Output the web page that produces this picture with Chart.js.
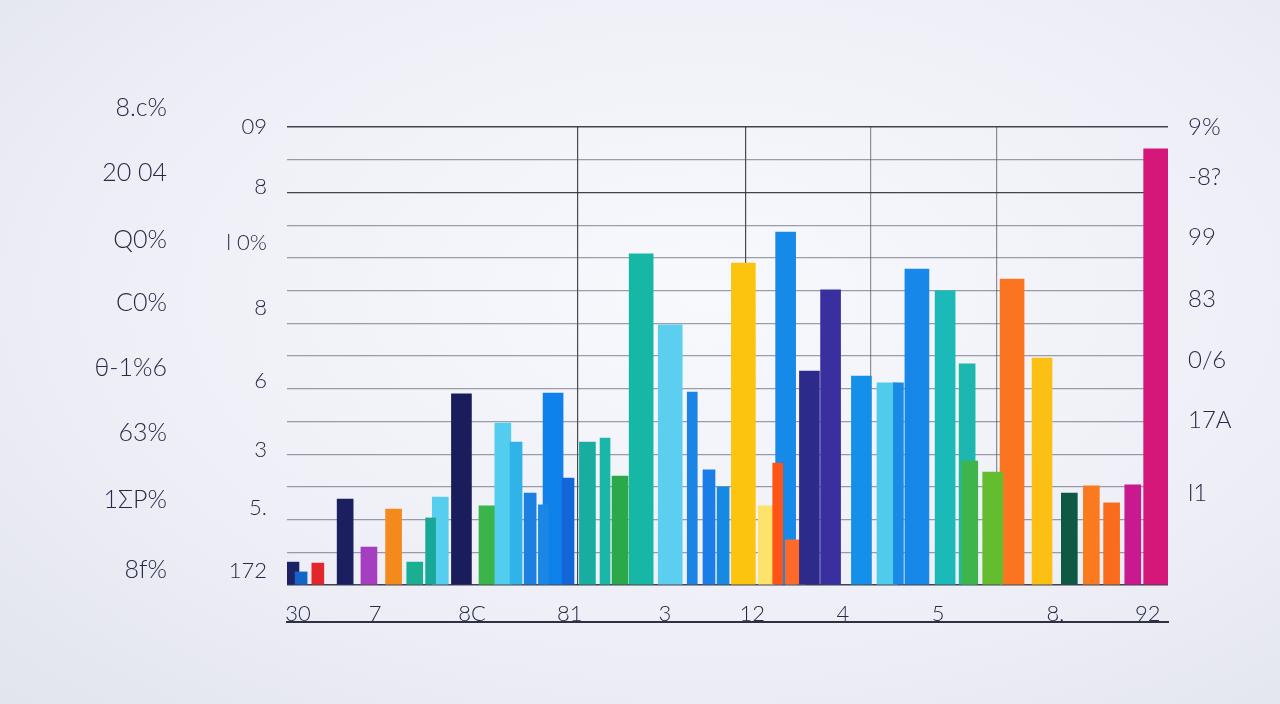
<!DOCTYPE html>
<html>
<head>
<meta charset="utf-8">
<script src="https://cdn.jsdelivr.net/npm/chart.js@4.4.1/dist/chart.umd.min.js"></script>
<style>
  html, body { margin: 0; padding: 0; }
  body {
    width: 1280px; height: 704px; overflow: hidden;
    background: radial-gradient(ellipse at 55% 42%, #f8f9fd 0%, #eff0f7 55%, #e2e4ee 100%);
  }
  #wrap { position: relative; width: 1280px; height: 704px; }
</style>
</head>
<body>
<div id="wrap"><canvas id="c"></canvas></div>
<script>
// ---- data ----
const barPos = [0.45, 1.6, 3.5, 6.6, 9.3, 12.1, 14.5, 16.3, 17.4, 19.8, 22.7, 24.5, 26.0, 27.6, 29.1, 30.2, 31.9,
  34.1, 36.1, 37.8, 40.2, 43.5, 46.0, 47.9, 49.5, 51.8, 54.4, 55.7, 56.6, 57.7, 59.3, 61.7, 65.2, 68.1, 69.4,
  71.5, 74.7, 77.2, 77.5, 80.1, 82.3, 85.7, 88.8, 91.3, 93.6, 96.0, 98.6];
const barValues = [0.70, 0.40, 0.67, 2.63, 1.16, 2.32, 0.70, 2.05, 2.69, 5.84, 2.42, 4.95, 4.37, 2.81, 2.45, 5.87, 3.27,
  4.37, 4.49, 3.33, 10.12, 7.95, 5.90, 3.52, 3.00, 9.84, 2.42, 3.73, 10.79, 1.38, 6.54, 9.02, 6.39, 6.18, 6.18,
  9.66, 8.99, 6.76, 3.79, 3.45, 9.35, 6.94, 2.81, 3.03, 2.51, 3.06, 13.33];
const xLabelPos = [1.25, 10.0, 21.0, 32.1, 42.9, 52.8, 63.1, 73.9, 87.2, 97.7];
const xLabels = ["30", "7", "8C", "81", "3", "12", "4", "5", "8,", "92"];
const innerTickVals = [0.43, 2.35, 4.13, 6.24, 8.47, 10.46, 12.17, 14.0];
const innerTickLabels = ["172", "5.", "3", "6", "8", "l 0%", "8", "09"];
const outerTickVals = [0.46, 2.6, 4.65, 6.64, 8.62, 10.55, 12.6, 14.59];
const outerTickLabels = ["8f%", "1ΣP%", "63%", "θ-1%6", "C0%", "Q0%", "20 04", "8.c%"];
const rightTickVals = [2.81, 5.05, 6.88, 8.72, 10.64, 12.45, 14.0];
const rightTickLabels = ["l1", "17A", "0/6", "83", "99", "-8?", "9%"];
const gridXPos = [33.0, 52.0, 66.2, 80.5];

// ---- styles ----
const barColors = ["#1c2263", "#1565c8", "#e3262b", "#1b1f5f", "#a53fbf", "#f58a1c", "#1aae93", "#18a898", "#56cfee",
  "#1a1d5c", "#3bb449", "#52cdef", "#2fb3e8", "#1b80e2", "#1a86e6", "#0f81ea", "#1466d8",
  "#18ae9f", "#1ab7a8", "#2ba94a", "#17b7a6", "#5ccff0", "#1a85e4", "#1a7de8", "#168ae2", "#fcc30f", "#fde36a",
  "#ff5418", "#168ae8", "#ff6a28", "#2c2a8a", "#3a2f9e", "#1590ea", "#50cbec", "#1b8ae6",
  "#1787ea", "#1bbab8", "#1cb8b0", "#3db54a", "#64bd2e", "#fb7521", "#fcbf14", "#0d5944", "#fb7a1f", "#f96c1d", "#c9198f", "#d5177a"];
const barWidths = [16, 12, 12, 16, 16, 16, 16, 10, 16, 20, 16, 16, 12, 12, 10, 20, 12,
  16, 10, 16, 24, 24, 10, 12, 12, 24, 16, 10, 20, 20, 20, 20, 20, 20, 10,
  24, 20, 16, 16, 20, 24, 20, 16, 16, 16, 16, 24];
const widthClasses = [10, 12, 16, 20, 24];

const textColor = "#262a45";
const font = "Lato, 'DejaVu Sans', sans-serif";

const datasets = widthClasses.map(w => {
  const idx = barPos.map((_, i) => i).filter(i => barWidths[i] === w);
  return {
    type: 'bar',
    data: idx.map(i => ({ x: barPos[i], y: barValues[i] })),
    backgroundColor: idx.map(i => barColors[i]),
    barThickness: w,
    grouped: false,
    borderWidth: 0,
    xAxisID: 'x',
    yAxisID: 'y'
  };
});

const Y_MAX = 14;

new Chart(document.getElementById('c'), {
  type: 'bar',
  data: { datasets },
  options: {
    responsive: true,
    maintainAspectRatio: false,
    animation: false,
    layout: { padding: { left: 95, right: 37, top: 127, bottom: 81 } },
    plugins: { legend: { display: false }, tooltip: { enabled: false } },
    scales: {
      x: {
        type: 'linear', position: 'bottom', weight: 0, min: 0, max: 100, offset: false,
        grid: { display: false, offset: false },
        border: { display: false },
        afterBuildTicks: s => { s.ticks = xLabelPos.map(v => ({ value: v })); },
        afterFit: s => { s.height = 37; },
        ticks: {
          autoSkip: false, maxRotation: 0, padding: 8, color: textColor,
          font: { family: font, size: 22, weight: 300 },
          callback: (v, i) => xLabels[i]
        }
      },
      xg: {
        type: 'linear', position: 'bottom', weight: 1, min: 0, max: 100, offset: false,
        afterBuildTicks: s => { s.ticks = gridXPos.map(v => ({ value: v })); },
        afterFit: s => { s.height = 0; },
        ticks: { display: false },
        border: { display: false },
        grid: {
          offset: false, drawTicks: false, lineWidth: 1.2,
          color: c => (c.index < 2 ? 'rgba(40,42,55,0.85)' : 'rgba(70,74,90,0.6)')
        }
      },
      x2: {
        type: 'linear', position: 'bottom', weight: 2, min: 0, max: 100, offset: false,
        afterFit: s => { s.height = 1; },
        ticks: { display: false },
        grid: { display: false },
        border: { display: true, color: '#2e3142', width: 2 }
      },
      y: {
        type: 'linear', position: 'left', weight: 0, min: 0, max: Y_MAX,
        afterBuildTicks: s => { s.ticks = Array.from({ length: 15 }, (_, i) => ({ value: i })); },
        afterFit: s => { s.width = 0; },
        ticks: { display: false },
        border: { display: false },
        grid: {
          drawTicks: false, lineWidth: c => (c.tick && (c.tick.value === 14 || c.tick.value === 0) ? 1.6 : 1.2),
          color: c => (c.tick && (c.tick.value === 14 || c.tick.value === 0 || c.tick.value === 12) ? 'rgba(45,48,60,0.9)' : 'rgba(80,84,100,0.55)')
        }
      },
      yIn: {
        type: 'linear', position: 'left', weight: 1, min: 0, max: Y_MAX,
        afterBuildTicks: s => { s.ticks = innerTickVals.map(v => ({ value: v })); },
        afterFit: s => { s.width = 102; },
        grid: { display: false },
        border: { display: false },
        ticks: {
          autoSkip: false, padding: 12, color: textColor,
          font: { family: font, size: 22, weight: 300 },
          callback: (v, i) => innerTickLabels[i]
        }
      },
      yOut: {
        type: 'linear', position: 'left', weight: 2, min: 0, max: Y_MAX,
        afterBuildTicks: s => { s.ticks = outerTickVals.map(v => ({ value: v })); },
        afterFit: s => { s.width = 90; },
        grid: { display: false },
        border: { display: false },
        ticks: {
          autoSkip: false, padding: 10, color: textColor,
          font: { family: font, size: 25, weight: 300 },
          callback: (v, i) => outerTickLabels[i]
        }
      },
      y2: {
        type: 'linear', position: 'right', weight: 0, min: 0, max: Y_MAX,
        afterBuildTicks: s => { s.ticks = rightTickVals.map(v => ({ value: v })); },
        afterFit: s => { s.width = 75; },
        grid: { display: false },
        border: { display: false },
        ticks: {
          autoSkip: false, padding: 12, color: textColor,
          font: { family: font, size: 24, weight: 300 },
          callback: (v, i) => rightTickLabels[i]
        }
      }
    }
  }
});
</script>
</body>
</html>
